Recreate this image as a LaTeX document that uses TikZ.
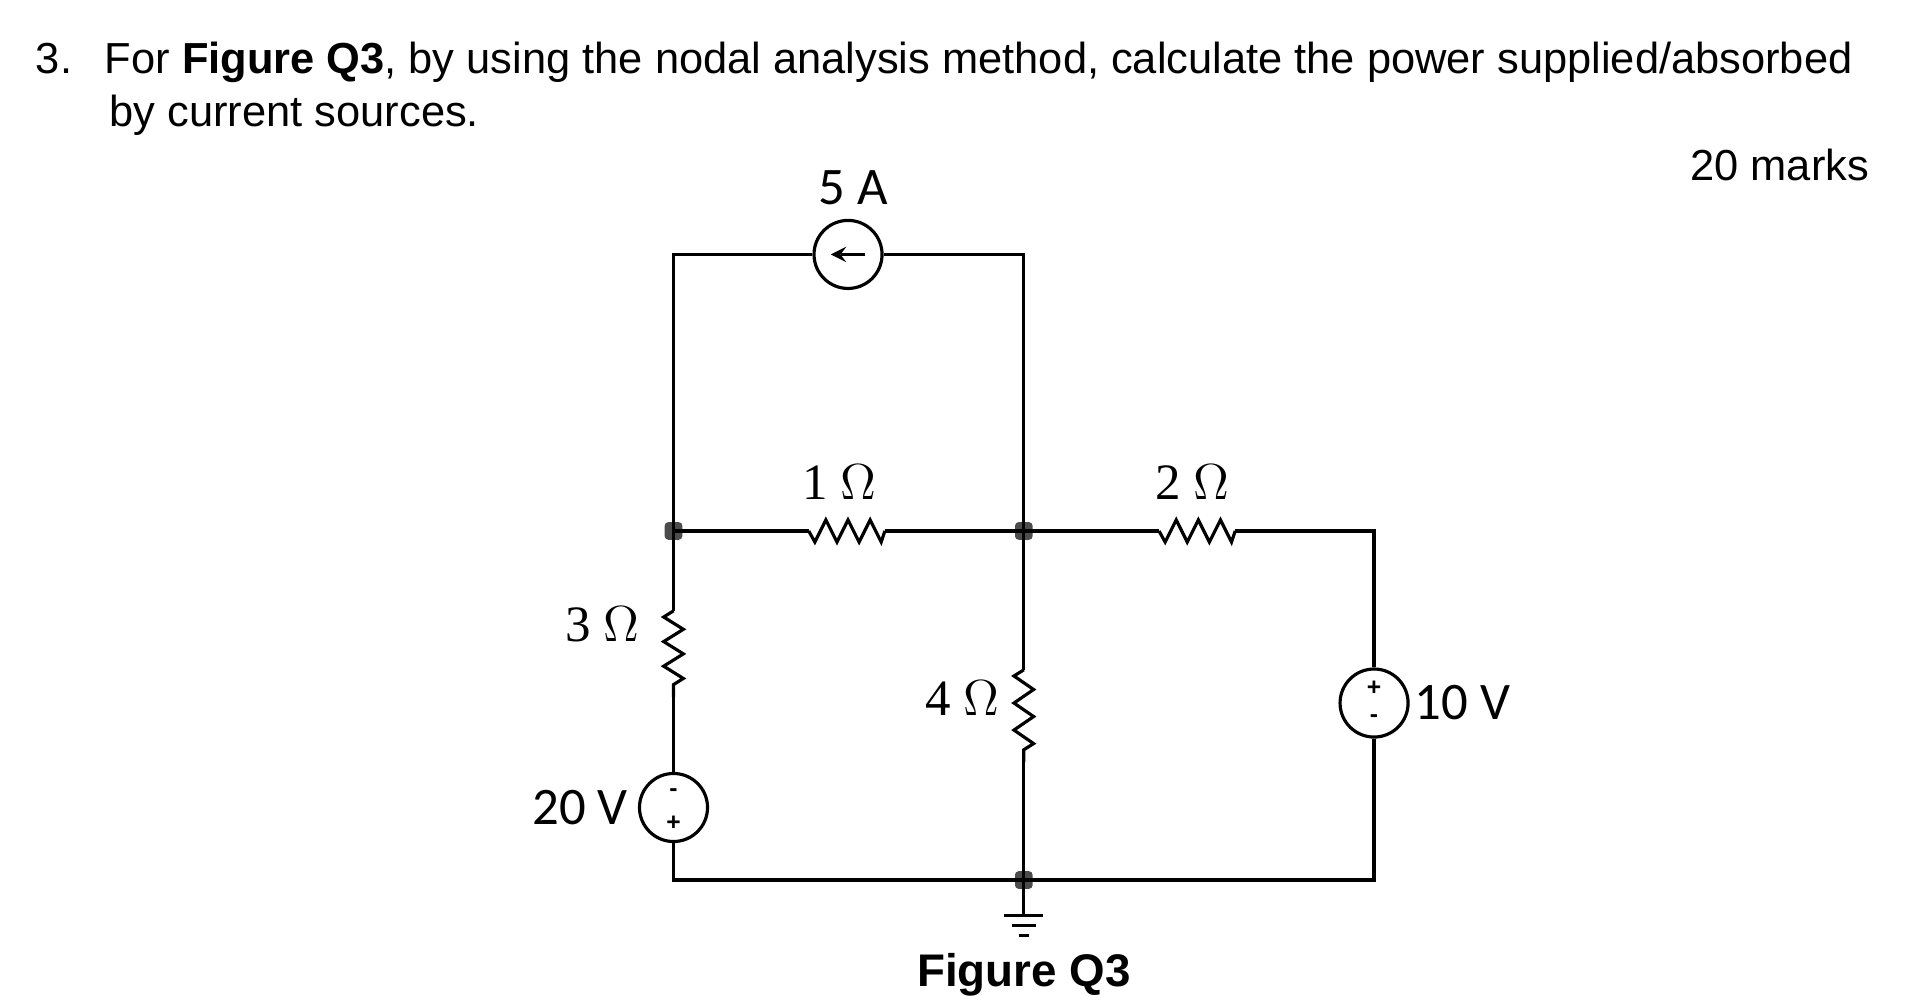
\documentclass[tikz,border=0pt]{standalone}
\usepackage{fontspec}
\setmainfont{Liberation Sans}
\newfontfamily\ohmfont{Liberation Serif}
\newfontfamily\voltfont{Carlito}
\usetikzlibrary{positioning,calc}
\begin{document}
\begin{tikzpicture}[x=0.01229cm,y=-0.01229cm,line width=0.9pt,
  every node/.style={inner sep=0pt},
  src/.style={circle,draw,minimum size=0.68cm},
  ohm/.style={font=\ohmfont\fontsize{14.5}{17}\selectfont},
  volt/.style={font=\voltfont\fontsize{15}{18}\selectfont},
  txt/.style={font=\fontsize{12.35}{15}\selectfont,anchor=base west},
  sgn/.style={font=\bfseries\scriptsize},
  dot/.style={fill=black!70,minimum size=5pt,rectangle,rounded corners=1pt}]
\useasboundingbox (0,0) rectangle (1550,813.7);
% question text
\node[txt] (q1) at (28,60) {3.\hspace{0.75em}For \textbf{Figure Q3}, by using the nodal analysis method, calculate the power supplied/absorbed};
\node[txt] (q2) at (88,103) {by current sources.};
\node[txt,anchor=base east] (marks) at (1522,147) {20 marks};
% junctions
\coordinate (tl) at (548,207);
\coordinate (tr) at (833,207);
\node[dot] (ml) at (548,432) {};
\node[dot] (mm) at (833,432) {};
\coordinate (mr) at (1118,432);
\coordinate (bl) at (548,716);
\node[dot] (bm) at (833,716) {};
\coordinate (br) at (1118,716);
% sources
\node[src] (ia) at (690,207) {};
\draw[->,>=stealth] ($(ia)+(14,0)$) -- ($(ia)+(-14,0)$);
\node[src] (va) at (548,657) {};
\node[sgn] at ($(va)+(0,-12)$) {-};
\node[sgn] at ($(va)+(0,13)$) {+};
\node[src] (vb) at (1118,572) {};
\node[sgn] at ($(vb)+(0,-12)$) {+};
\node[sgn] at ($(vb)+(0,13)$) {-};
% resistor ends
\coordinate (r1a) at (658,432); \coordinate (r1b) at (720,432);
\coordinate (r2a) at (943,432); \coordinate (r2b) at (1005,432);
\coordinate (r3a) at (548,497); \coordinate (r3b) at (548,567);
\coordinate (r4a) at (833,545); \coordinate (r4b) at (833,620);
% wires
\draw (ia.west) -- (tl) -- (ml.center) -- (r3a);
\draw (ia.east) -- (tr) -- (mm.center);
\draw (ml.center) -- (r1a);
\draw (r1b) -- (mm.center) -- (r2a);
\draw (r2b) -- (mr) -- (vb.north);
\draw (vb.south) -- (br) -- (bm.center) -- (bl) -- (va.south);
\draw (va.north) -- (r3b);
\draw (mm.center) -- (r4a);
\draw (r4b) -- (bm.center);
% resistors
\draw (r1a) -- ++(5,9) -- ++(9,-18) -- ++(9,18) -- ++(9,-18) -- ++(9,18) -- ++(9,-18) -- ++(9,18) -- (r1b);
\draw (r2a) -- ++(5,9) -- ++(9,-18) -- ++(9,18) -- ++(9,-18) -- ++(9,18) -- ++(9,-18) -- ++(9,18) -- (r2b);
\draw (r3a) -- ++(-8,5) -- ++(16,10) -- ++(-16,10) -- ++(16,10) -- ++(-16,10) -- ++(16,10) -- ++(-8,5) -- (r3b);
\draw (r4a) -- ++(-8,5) -- ++(16,11) -- ++(-16,11) -- ++(16,11) -- ++(-16,11) -- ++(16,11) -- ++(-8,5) -- (r4b);
% ground
\coordinate (gnd) at (833,745);
\draw (bm.center) -- (gnd);
\draw ($(gnd)+(-16,0)$) -- ($(gnd)+(16,0)$);
\draw ($(gnd)+(-10,8)$) -- ($(gnd)+(10,8)$);
\draw ($(gnd)+(-4,16)$) -- ($(gnd)+(4,16)$);
% labels
\node[volt] at (694,153) {5 A};
\node[ohm] at (683,392) {1 $\Omega$};
\node[ohm] at (970,392) {2 $\Omega$};
\node[ohm] at (490,508) {3 $\Omega$};
\node[ohm] at (783,568) {4 $\Omega$};
\node[volt,anchor=east] at (512,657) {20 V};
\node[volt,anchor=west] at (1150,572) {10 V};
\node[font=\bfseries\fontsize{13}{15}\selectfont,anchor=base] (cap) at (833,803) {Figure Q3};
\end{tikzpicture}
\end{document}
